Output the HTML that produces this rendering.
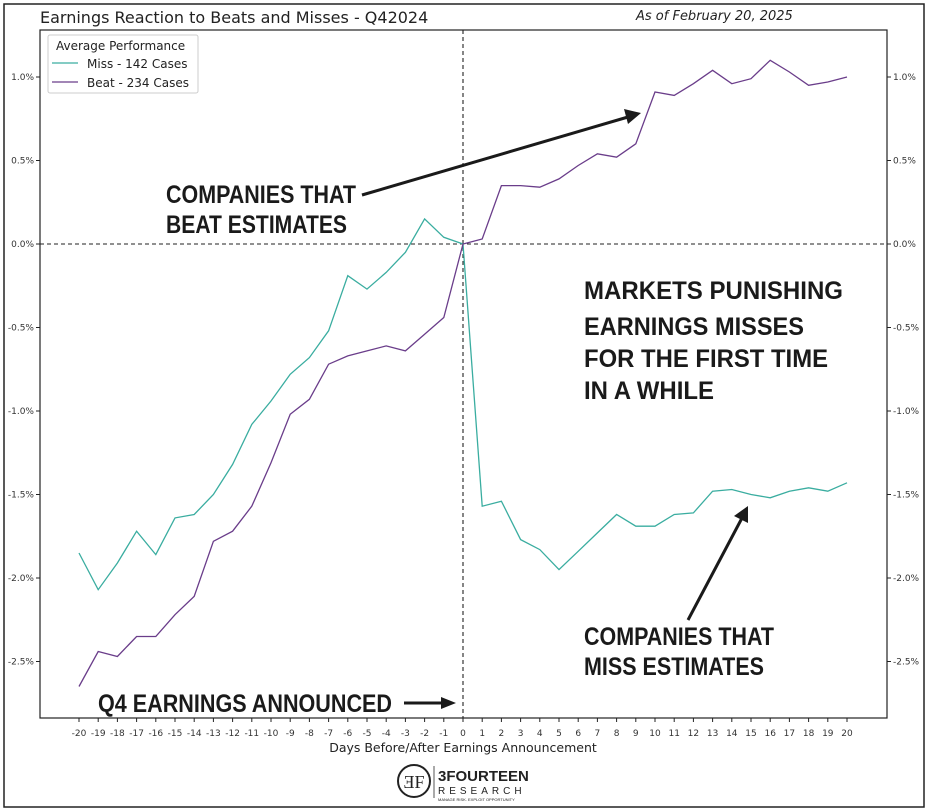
<!DOCTYPE html>
<html><head><meta charset="utf-8"><style>
html,body{margin:0;padding:0;background:#fff;}
svg{display:block;}
</style></head><body>
<svg id="s" width="929" height="812" xmlns="http://www.w3.org/2000/svg" font-family="DejaVu Sans, sans-serif">
<rect x="4" y="4" width="920" height="803" fill="#fff" stroke="#222" stroke-width="1.5"/>
<text x="40" y="23" font-size="16" fill="#222">Earnings Reaction to Beats and Misses - Q42024</text>
<text x="636" y="20" font-size="13" font-style="italic" fill="#222">As of February 20, 2025</text>
<rect x="40" y="30" width="847" height="688" fill="none" stroke="#222" stroke-width="1.2"/>
<g id="ticks" font-size="9" fill="#333"></g>
<line x1="463" y1="30" x2="463" y2="718" stroke="#222" stroke-dasharray="4,3" stroke-width="1.1"/>
<line x1="40" y1="244" x2="887" y2="244" stroke="#222" stroke-dasharray="4,3" stroke-width="1.1"/>
<polyline id="miss" fill="none" stroke="#3aada0" stroke-width="1.3"/>
<polyline id="beat" fill="none" stroke="#6a3d8a" stroke-width="1.3"/>
<rect x="48" y="35" width="150" height="58" fill="#fff" stroke="#ccc" rx="2"/>
<text x="56" y="50" font-size="12" fill="#222">Average Performance</text>
<line x1="52" y1="63" x2="78" y2="63" stroke="#3aada0" stroke-width="1.3"/>
<text x="87" y="68" font-size="12" fill="#222">Miss - 142 Cases</text>
<line x1="52" y1="82" x2="78" y2="82" stroke="#6a3d8a" stroke-width="1.3"/>
<text x="87" y="87" font-size="12" fill="#222">Beat - 234 Cases</text>
<g font-family="Liberation Sans, sans-serif" font-weight="bold" font-size="25" fill="#1a1a1a">
<text x="166" y="203" textLength="190" lengthAdjust="spacingAndGlyphs">COMPANIES THAT</text>
<text x="166" y="233" textLength="181" lengthAdjust="spacingAndGlyphs">BEAT ESTIMATES</text>
<text x="584" y="299" textLength="259" lengthAdjust="spacingAndGlyphs">MARKETS PUNISHING</text>
<text x="584" y="335" textLength="220" lengthAdjust="spacingAndGlyphs">EARNINGS MISSES</text>
<text x="584" y="367" textLength="244" lengthAdjust="spacingAndGlyphs">FOR THE FIRST TIME</text>
<text x="584" y="399" textLength="130" lengthAdjust="spacingAndGlyphs">IN A WHILE</text>
<text x="584" y="645" textLength="190" lengthAdjust="spacingAndGlyphs">COMPANIES THAT</text>
<text x="584" y="675" textLength="180" lengthAdjust="spacingAndGlyphs">MISS ESTIMATES</text>
<text x="98" y="712" textLength="294" lengthAdjust="spacingAndGlyphs">Q4 EARNINGS ANNOUNCED</text>
</g>
<g stroke="#1a1a1a" stroke-width="3" fill="#1a1a1a">
<line x1="362" y1="195" x2="628" y2="117"/>
<polygon points="641,113 624,109 628,124" stroke="none"/>
<line x1="688" y1="620" x2="742" y2="518"/>
<polygon points="748,506 734,516 748,523" stroke="none"/>
<line x1="404" y1="703" x2="442" y2="703"/>
<polygon points="456,703 441,697 441,709" stroke="none"/>
</g>
<text x="463" y="752" font-size="12.5" fill="#222" text-anchor="middle">Days Before/After Earnings Announcement</text>
<g>
<circle cx="414" cy="781" r="16" fill="none" stroke="#222" stroke-width="2"/>
<text x="414" y="788" font-size="18" text-anchor="middle" fill="#222" font-family="Liberation Serif, serif">ƎF</text>
<line x1="434" y1="766" x2="434" y2="798" stroke="#555"/>
<text x="438" y="781" font-size="15" font-weight="bold" fill="#222" font-family="Liberation Sans, sans-serif">3FOURTEEN</text>
<text x="438" y="794" font-size="10" fill="#222" letter-spacing="4" font-family="Liberation Sans, sans-serif">RESEARCH</text>
<text x="438" y="801" font-size="4" fill="#222" font-family="Liberation Sans, sans-serif">MANAGE RISK. EXPLOIT OPPORTUNITY</text>
</g>
</svg>
<script>
var miss=[-1.85,-2.07,-1.91,-1.72,-1.86,-1.64,-1.62,-1.50,-1.32,-1.08,-0.94,-0.78,-0.68,-0.52,-0.19,-0.27,-0.17,-0.05,0.15,0.04,0,-1.57,-1.54,-1.77,-1.83,-1.95,-1.84,-1.73,-1.62,-1.69,-1.69,-1.62,-1.61,-1.48,-1.47,-1.50,-1.52,-1.48,-1.46,-1.48,-1.43];
var beat=[-2.65,-2.44,-2.47,-2.35,-2.35,-2.22,-2.11,-1.78,-1.72,-1.57,-1.31,-1.02,-0.93,-0.72,-0.67,-0.64,-0.61,-0.64,-0.54,-0.44,0,0.03,0.35,0.35,0.34,0.39,0.47,0.54,0.52,0.60,0.91,0.89,0.96,1.04,0.96,0.99,1.10,1.03,0.95,0.97,1.00];
function X(i){return 79+i*19.2;}function Y(v){return 244-v*167;}
function pts(a){return a.map(function(v,i){return X(i).toFixed(1)+','+Y(v).toFixed(1)}).join(' ');}
document.getElementById('miss').setAttribute('points',pts(miss));
document.getElementById('beat').setAttribute('points',pts(beat));
var g=document.getElementById('ticks'),h='';
for(var i=0;i<=40;i++){var x=X(i);h+='<line x1="'+x+'" y1="718" x2="'+x+'" y2="722" stroke="#222"/><text x="'+x+'" y="736" text-anchor="middle">'+(i-20)+'</text>';}
var ys=[1.0,0.5,0.0,-0.5,-1.0,-1.5,-2.0,-2.5];
ys.forEach(function(v){var y=Y(v);var l=v.toFixed(1)+'%';
h+='<line x1="36" y1="'+y+'" x2="40" y2="'+y+'" stroke="#222"/><text x="34" y="'+(y+3)+'" text-anchor="end">'+l+'</text>';
h+='<line x1="887" y1="'+y+'" x2="891" y2="'+y+'" stroke="#222"/><text x="893" y="'+(y+3)+'">'+l+'</text>';});
g.innerHTML=h;
</script>
</body></html>
